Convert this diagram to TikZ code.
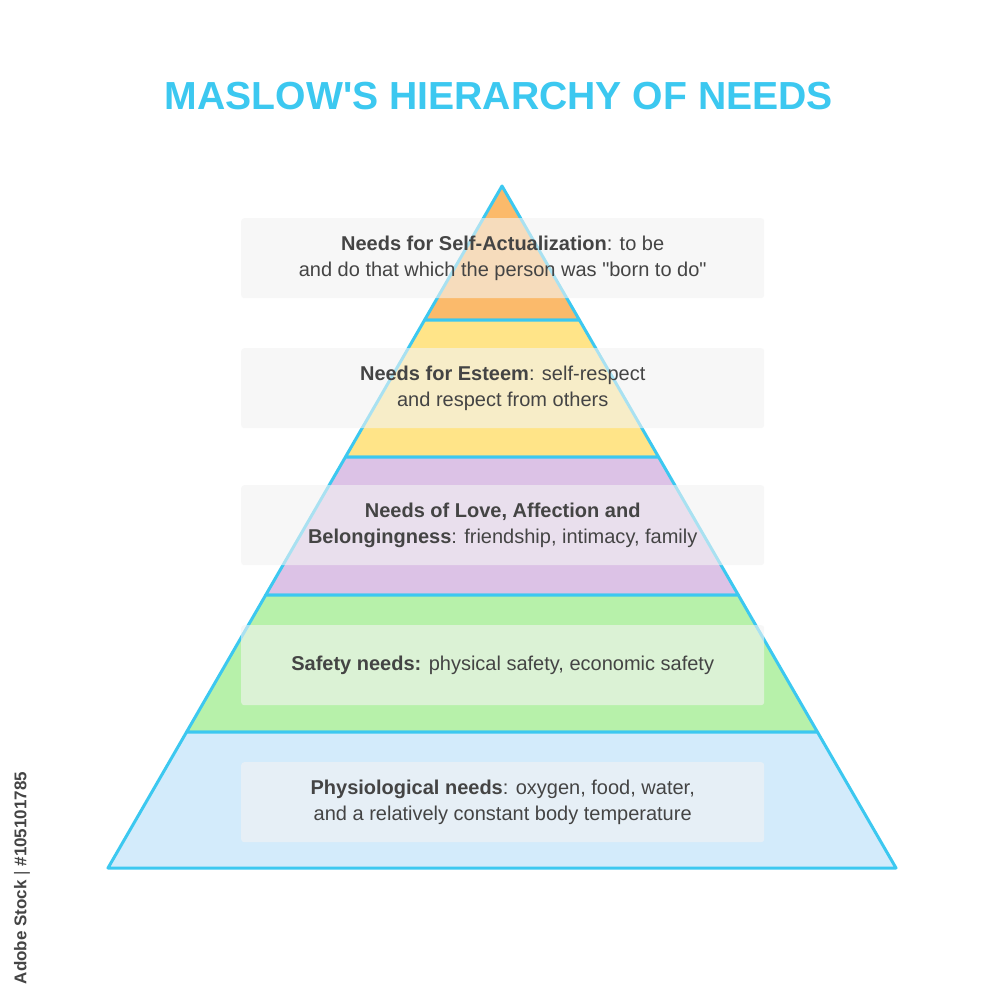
\documentclass[tikz,border=0pt]{standalone}
\usepackage{fontspec}
\setmainfont{Liberation Sans}[Ligatures=ResetAll]
\newfontfamily\qf{Liberation Sans}[Ligatures=ResetAll,RawFeature=-tlig]
\definecolor{cy}{HTML}{3CC8F0}
\definecolor{tx}{HTML}{444444}
\definecolor{c1}{HTML}{FBBA6B}
\definecolor{c2}{HTML}{FFE488}
\definecolor{c3}{HTML}{DCC2E6}
\definecolor{c4}{HTML}{B7F1AA}
\definecolor{c5}{HTML}{D3EBFB}
\definecolor{bx}{HTML}{F3F3F3}
\tikzset{layer/.style={draw=cy,line width=3pt,line join=round},
 tbox/.style={fill=bx,fill opacity=0.6,text opacity=1,rounded corners=3pt,minimum width=523pt,minimum height=80pt,text=tx,align=center,font=\fontsize{20}{26}\selectfont,anchor=north west,inner sep=0pt}}
\begin{document}
\begin{tikzpicture}[x=1pt,y=-1pt]
\useasboundingbox (0,0) rectangle (1000,1000);
\fill[white] (0,0) rectangle (1000,1000);
\foreach \ya/\yb/\c in {186/320/c1,320/457/c2,457/595/c3,595/732/c4,732/868/c5}{
  \pgfmathsetmacro{\la}{502-0.57771*(\ya-186)}
  \pgfmathsetmacro{\ra}{502+0.57771*(\ya-186)}
  \pgfmathsetmacro{\lb}{502-0.57771*(\yb-186)}
  \pgfmathsetmacro{\rb}{502+0.57771*(\yb-186)}
  \draw[layer,fill=\c] (\la,\ya) -- (\ra,\ya) -- (\rb,\yb) -- (\lb,\yb) -- cycle;
}
\node[tbox] (b1) at (241,218) {\textbf{Needs for Self-Actualization}: to be\\and do that which the person was \textquotedbl born to do\textquotedbl};
\node[tbox] (b2) at (241,348) {\textbf{Needs for Esteem}: self-respect\\and respect from others};
\node[tbox] (b3) at (241,485) {\textbf{Needs of Love, Affection and}\\\textbf{Belongingness}: friendship, intimacy, family};
\node[tbox] (b4) at (241,625) {\textbf{Safety needs:} physical safety, economic safety};
\node[tbox] (b5) at (241,762) {\textbf{Physiological needs}: oxygen, food, water,\\and a relatively constant body temperature};
\node[text=cy,font=\fontsize{40}{44}\selectfont\bfseries] (t) at (499,96) {\resizebox{668pt}{!}{MASLOW\textquotesingle S HIERARCHY OF NEEDS}};
\node[rotate=90,text=tx,font=\fontsize{17}{20}\selectfont] (w) at (22,878) {\textbf{Adobe Stock} | \textbf{\#105101785}};
\end{tikzpicture}
\end{document}
